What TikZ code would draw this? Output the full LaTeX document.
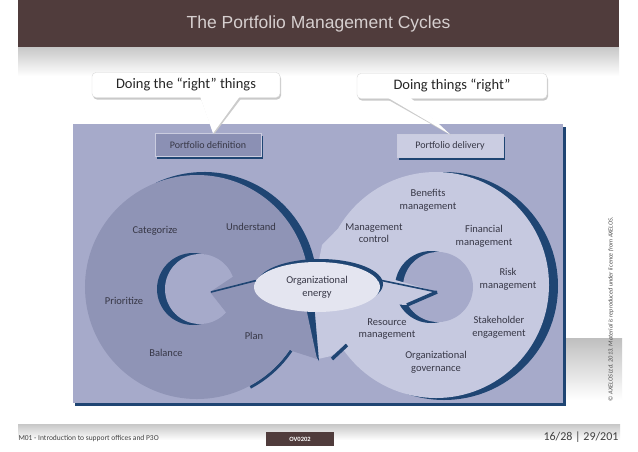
\documentclass[tikz,border=0pt]{standalone}
\usepackage{fontspec}
\setmainfont{Carlito}
\newfontfamily\titlefont{Liberation Sans}
\usepackage{xcolor}
\usepackage{tikz}
\usetikzlibrary{shapes.geometric,shadows}
\definecolor{slidebar}{RGB}{80,60,60}
\definecolor{titletext}{RGB}{214,207,207}
\definecolor{panelblue}{RGB}{166,170,202}
\definecolor{defdisc}{RGB}{143,148,182}
\definecolor{deldisc}{RGB}{198,201,224}
\definecolor{navy}{RGB}{31,69,115}
\definecolor{energy}{RGB}{228,229,240}
\definecolor{labeltext}{RGB}{55,55,70}
\definecolor{defbox}{RGB}{139,144,180}
\definecolor{delbox}{RGB}{203,205,226}

\begin{document}
\begin{tikzpicture}[x=1pt, y=-1pt,
  cyclelabel/.style={font=\fontsize{10.5}{12.6}\selectfont, text=labeltext, align=center, inner sep=0pt},
  phasebox/.style={draw=panelblue!60!white, minimum width=106pt, minimum height=23pt, inner sep=0pt,
              font=\fontsize{10}{12}\selectfont, text=labeltext,
              drop shadow={shadow xshift=2pt, shadow yshift=-2pt, fill=navy, opacity=1}},
  bubble/.style={fill=white, draw=black!15, rounded corners=4pt, minimum height=25pt, inner sep=0pt,
              font=\fontsize{14.5}{17}\selectfont, text=black!85,
              drop shadow={shadow xshift=1pt, shadow yshift=-2pt, fill=black!35, opacity=.6}},
  energynode/.style={ellipse, fill=energy, minimum width=126pt, minimum height=50pt, inner sep=0pt,
              font=\fontsize{10.5}{12.6}\selectfont, text=labeltext, align=center,
              drop shadow={shadow xshift=3pt, shadow yshift=3pt, fill=navy, opacity=1}},
  linkline/.style={navy, line width=1.6pt},
]
\useasboundingbox (0,0) rectangle (638,451);
\fill[white] (0,0) rectangle (638,451);

% Soft shades (y upwards here)
\begin{scope}[y=1pt]
\shade[top color=black!22, bottom color=white] (18,-47) rectangle (619,-76);
\shade[top color=black!25, bottom color=white] (566,-338) rectangle (622,-400);
\shade[top color=black!22, bottom color=white] (18,-424) rectangle (620,-440);
\end{scope}

% Title bar
\fill[slidebar] (18,0) rectangle (619,47);
\node[font=\titlefont\fontsize{17.5}{20}\selectfont, text=titletext] (title) at (318.5,24) {The Portfolio Management Cycles};

% Panel
\fill[navy] (75,127) rectangle (566,406);
\fill[panelblue] (73,124) rectangle (563,403);

% Delivery cycle
\fill[navy] (444,286) circle[radius=114];
\fill[deldisc] (436,285) ++(146:113) arc[start angle=146, end angle=-150, radius=113]
  -- (322,245) -- (311,300) -- (318,359) -- (331,356) -- cycle;
\draw[navy, line width=3.5pt] (332,359) -- (347,345);

% Definition cycle
\fill[navy] (204,285) ++(-115:113) arc[start angle=-115, end angle=12, radius=113]
  -- (319,361) -- (300,330) -- (197,287) -- cycle;
\draw[navy, line width=3pt] (197,287) ++(62:113.5) arc[start angle=62, end angle=34, radius=113.5];
\fill[defdisc] (197,287) ++(34:112) arc[start angle=34, end angle=372, radius=112]
  -- (317,359) -- (292,351) -- cycle;

% Inner holes
\fill[navy] (193,289) circle[radius=36];
\fill[panelblue] (200,289) circle[radius=35];
\fill[defdisc] (210,292) -- (246,268) -- (240,330) -- cycle;
\fill[navy] (431,287) circle[radius=36];
\fill[panelblue] (438,287) circle[radius=35];
\fill[deldisc] (437,292) -- (385,277) -- (388,304) -- (407,305) -- cycle;
\draw[navy, line width=3.5pt, line join=miter] (437,292) -- (407,305);

% Organizational energy
\node[energynode] (orgE) at (317,287) {Organizational\\energy};
\coordinate (lmouth) at (211,292);
\coordinate (rmouth) at (437,292);
\draw[linkline] (lmouth) -- (orgE.174);
\draw[linkline] (orgE.7) -- (rmouth);

% Phase boxes
\node[phasebox, fill=defbox] (pdef) at (208,145) {Portfolio definition};
\node[phasebox, fill=delbox] (pdel) at (450,146) {Portfolio delivery};

% Callouts
\node[bubble, minimum width=188pt] (doright) at (186,85) {Doing the “right” things};
\node[bubble, minimum width=190pt] (dothings) at (452,86) {Doing things “right”};
\fill[black!20] ([xshift=15pt, yshift=-1pt]doright.south) -- ([xshift=6pt, yshift=-1pt]pdef.north)
  -- ([xshift=55pt, yshift=-1pt]doright.south) -- cycle;
\fill[white] ([xshift=14pt, yshift=1.5pt]doright.south) -- ([xshift=5pt]pdef.north)
  -- ([xshift=54pt, yshift=1.5pt]doright.south) -- cycle;
\fill[black!20] ([xshift=-64pt, yshift=-1pt]dothings.south) -- ([xshift=1pt, yshift=-1pt]pdel.north)
  -- ([xshift=-41pt, yshift=-1pt]dothings.south) -- cycle;
\fill[white] ([xshift=-65pt, yshift=1.5pt]dothings.south) -- (pdel.north)
  -- ([xshift=-42pt, yshift=1.5pt]dothings.south) -- cycle;

% Definition labels
\node[cyclelabel] (cat) at (155,231) {Categorize};
\node[cyclelabel] (und) at (251,227) {Understand};
\node[cyclelabel] (pri) at (124,301) {Prioritize};
\node[cyclelabel] (pla) at (254,336) {Plan};
\node[cyclelabel] (bal) at (166,353) {Balance};

% Delivery labels
\node[cyclelabel] (ben) at (428,200) {Benefits\\management};
\node[cyclelabel] (mco) at (374,233) {Management\\control};
\node[cyclelabel] (fin) at (484,236) {Financial\\management};
\node[cyclelabel] (ris) at (508,279) {Risk\\management};
\node[cyclelabel] (res) at (387,329) {Resource\\management};
\node[cyclelabel] (sta) at (499,327) {Stakeholder\\engagement};
\node[cyclelabel] (gov) at (436,362) {Organizational\\governance};

% Copyright
\node[rotate=90, font=\itshape\fontsize{6.3}{7}\selectfont, text=black!70] (axcopy) at (611,309)
  {© AXELOS Ltd. 2013. Material is reproduced under licence from AXELOS.};

% Footer
\node[anchor=west, font=\fontsize{7.5}{9}\selectfont, text=black!75] (module) at (15,438)
  {M01 - Introduction to support offices and P3O};
\node[fill=slidebar, text=white, font=\bfseries\fontsize{6.5}{8}\selectfont,
      minimum width=68pt, minimum height=14pt, inner sep=0pt] (slidecode) at (300,439) {OV0202};
\node[anchor=east, font=\fontsize{12}{14}\selectfont, text=black!75] (pages) at (622,437) {16/28 | 29/201};

\end{tikzpicture}
\end{document}
